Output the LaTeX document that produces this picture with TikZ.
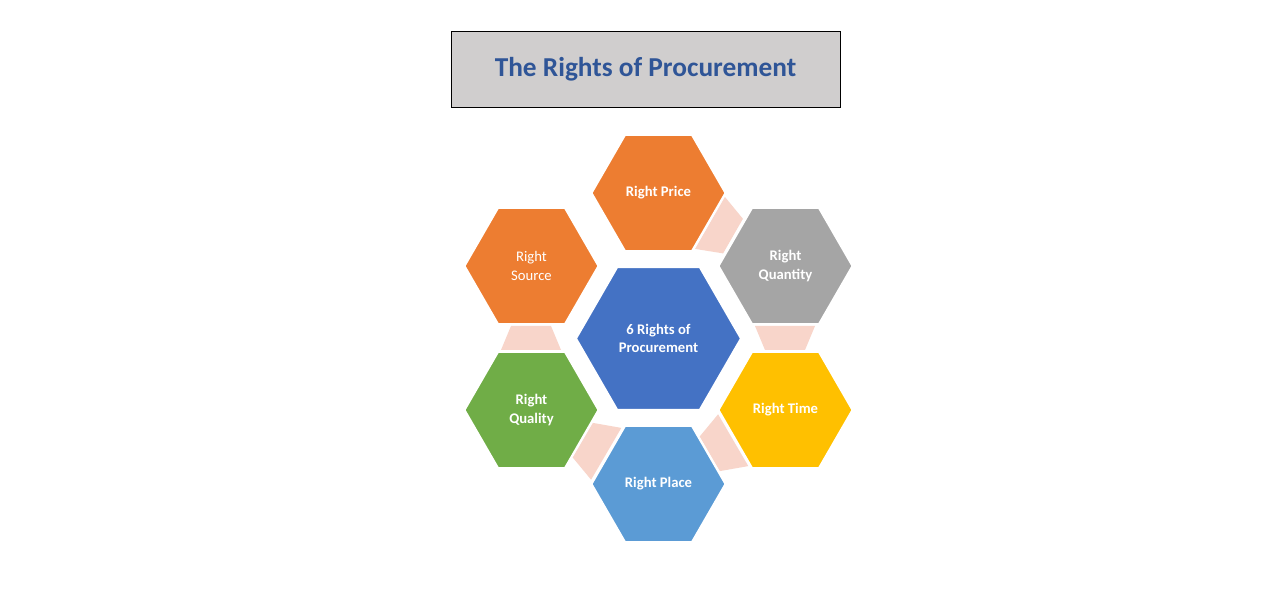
\documentclass[tikz,border=0pt]{standalone}
\usepackage{fontspec}
\setmainfont{Carlito}
\usetikzlibrary{shapes.geometric}
\definecolor{cOr}{HTML}{ED7D31}
\definecolor{cGr}{HTML}{A5A5A5}
\definecolor{cYe}{HTML}{FFC000}
\definecolor{cLb}{HTML}{5B9BD5}
\definecolor{cGn}{HTML}{70AD47}
\definecolor{cBl}{HTML}{4472C4}
\definecolor{cPk}{HTML}{F8D5CA}
\definecolor{cTb}{HTML}{D0CECE}
\definecolor{cTt}{HTML}{2F5597}
\tikzset{
  hex/.style={regular polygon, regular polygon sides=6, minimum size=134*0.75pt, inner sep=0pt, draw=white, line width=1.5pt, text=white, align=center, font=\fontsize{11}{14}\selectfont\bfseries},
  link/.style={fill=cPk, draw=none}
}
\begin{document}
\begin{tikzpicture}[x=0.75pt,y=-0.75pt]
\useasboundingbox (0,0) rectangle (1279,616);
\fill[white] (0,0) rectangle (1279,616);
% connectors
\fill[link] (511,326) -- (551,326) -- (561,350) -- (501,350) -- cycle;
\fill[link] (572.7,457.5) -- (592.9,422.9) -- (621.3,427.9) -- (591.1,479.7) -- cycle;
\fill[link] (719.9,471.1) -- (699.7,436.5) -- (718.1,414.3) -- (748.3,466.1) -- cycle;
\fill[link] (765,350) -- (805,350) -- (815,326) -- (755,326) -- cycle;
\fill[link] (742.9,218.8) -- (723.1,253.4) -- (695.1,248.9) -- (724.9,196.9) -- cycle;
% title
\node[draw=black, line width=0.6pt, fill=cTb, minimum width=389*0.75pt, minimum height=76*0.75pt, text=cTt, font=\fontsize{20.5}{24}\selectfont\bfseries] (title) at (645.5,69) {The Rights of Procurement};
% hexagons
\node[hex, fill=cBl, minimum size=165*0.75pt] (core) at (658.5,338.5) {6 Rights of\\Procurement};
\node[hex, fill=cOr] (price) at (658.5,193) {Right Price};
\node[hex, fill=cOr, font=\fontsize{11}{14}\selectfont] (source) at (531.5,266) {Right\\Source};
\node[hex, fill=cGr] (qty) at (785.5,266) {Right\\Quantity};
\node[hex, fill=cGn] (quality) at (531.5,410) {Right\\Quality};
\node[hex, fill=cYe] (time) at (785.5,410) {Right Time};
\node[hex, fill=cLb] (place) at (658.5,484) {Right Place};
\end{tikzpicture}
\end{document}
